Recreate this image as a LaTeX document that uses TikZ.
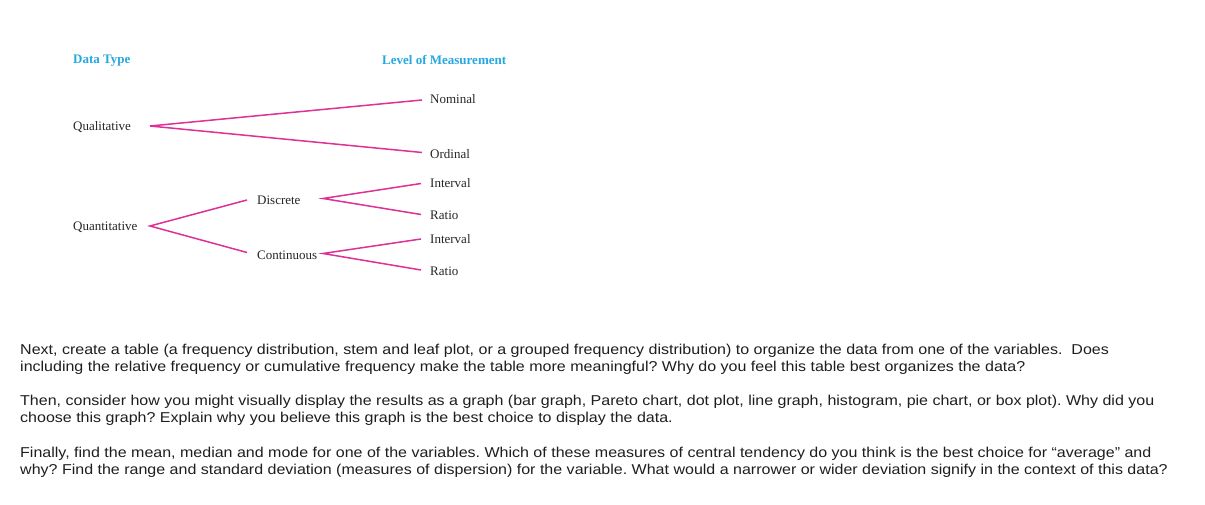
\documentclass[tikz,border=0pt]{standalone}
\usepackage{fontspec}
\setmainfont{Liberation Serif}
\newfontfamily\arialfont[FakeStretch=1.12]{Liberation Sans}
\definecolor{headcyan}{RGB}{38,168,224}
\definecolor{branch}{RGB}{222,48,150}
\definecolor{bodygray}{RGB}{30,30,30}
\frenchspacing
\begin{document}
\begin{tikzpicture}[x=1pt,y=-1pt,
  lbl/.style={anchor=west,inner sep=0pt,font=\fontsize{13}{15}\selectfont,text=black!85},
  head/.style={anchor=west,inner sep=0pt,font=\fontsize{13}{15}\selectfont\bfseries,text=headcyan},
  para/.style={anchor=base west,inner sep=0pt,align=left,text=bodygray,font=\arialfont\fontsize{14.3}{17}\selectfont\frenchspacing},
  br/.style={draw=branch,line width=1.5pt}]
\useasboundingbox[fill=white] (0,0) rectangle (1205,505);
% headings
\node[head] (dt) at (73,60.5) {Data Type};
\node[head] (lm) at (382,60.5) {Level of Measurement};
% labels
\node[lbl] (qual) at (73,127) {Qualitative};
\node[lbl] (quant) at (73,227) {Quantitative};
\node[lbl] (disc) at (257,200) {Discrete};
\node[lbl] (cont) at (257,255) {Continuous};
\node[lbl] (nom) at (430,99) {Nominal};
\node[lbl] (ord) at (430,154) {Ordinal};
\node[lbl] (int1) at (430,183) {Interval};
\node[lbl] (rat1) at (430,215) {Ratio};
\node[lbl] (int2) at (430,239) {Interval};
\node[lbl] (rat2) at (430,271) {Ratio};
% branch points
\coordinate (qualR) at (150,126);
\coordinate (nomL) at (422,100);
\coordinate (ordL) at (422,152.5);
\coordinate (quantR) at (150,226);
\coordinate (discL) at (247,200);
\coordinate (contL) at (247,252.5);
\coordinate (discR) at (323,198.5);
\coordinate (contR) at (323,253.5);
\coordinate (int1L) at (421,183.5);
\coordinate (rat1L) at (421,214.5);
\coordinate (int2L) at (421,239);
\coordinate (rat2L) at (421,270);
\draw[br] (nomL) -- (qualR) -- (ordL);
\draw[br] (discL) -- (quantR) -- (contL);
\draw[br] (int1L) -- (discR) -- (rat1L);
\draw[br] (int2L) -- (contR) -- (rat2L);
% paragraphs (anchor = baseline of the last line)
\node[para] (p1) at (20,371) {Next, create a table (a frequency distribution, stem and leaf plot, or a grouped frequency distribution) to organize the data from one of the variables.\ \ Does\\including the relative frequency or cumulative frequency make the table more meaningful? Why do you feel this table best organizes the data?};
\node[para] (p2) at (20,422) {Then, consider how you might visually display the results as a graph (bar graph, Pareto chart, dot plot, line graph, histogram, pie chart, or box plot). Why did you\\choose this graph? Explain why you believe this graph is the best choice to display the data.};
\node[para] (p3) at (20,474) {Finally, find the mean, median and mode for one of the variables. Which of these measures of central tendency do you think is the best choice for “average” and\\why? Find the range and standard deviation (measures of dispersion) for the variable. What would a narrower or wider deviation signify in the context of this data?};
\end{tikzpicture}
\end{document}
